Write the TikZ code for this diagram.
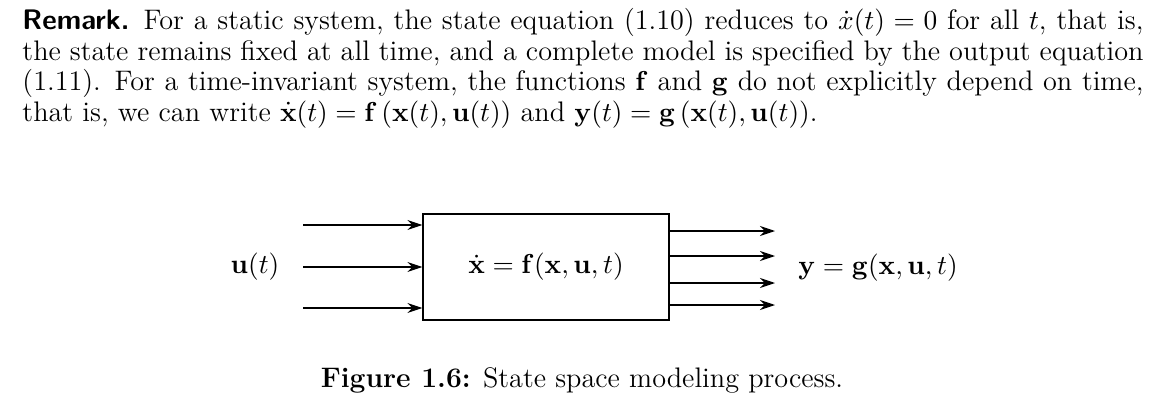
\documentclass[tikz,border=0pt]{standalone}
\usepackage{amsmath}
\usetikzlibrary{arrows.meta}
\begin{document}
\begin{tikzpicture}[x=0.4pt,y=-0.4pt,
  arr/.style={-{Stealth[length=6pt,width=4pt]},line width=0.5pt},
  blk/.style={draw,line width=0.5pt,minimum width=98.4pt,minimum height=42.4pt,inner sep=0pt}]
\useasboundingbox (0,0) rectangle (1167,413);
\node[anchor=north west,inner sep=0pt,text width=448.4pt,align=justify,font=\fontsize{11.3}{12.2}\selectfont] (para) at (22,8)
{\textsf{\textbf{Remark.}} For a static system, the state equation (1.10) reduces to $\dot x(t)=0$ for all $t$, that is,\linebreak
the state remains fixed at all time, and a complete model is specified by the output equation\linebreak
(1.11). For a time-invariant system, the functions $\mathbf f$ and $\mathbf g$ do not explicitly depend on time,\linebreak
that is, we can write $\dot{\mathbf x}(t)=\mathbf f\left(\mathbf x(t),\mathbf u(t)\right)$ and $\mathbf y(t)=\mathbf g\left(\mathbf x(t),\mathbf u(t)\right)$.};
\node[blk] (box) at (546,267) {\fontsize{11.3}{12}\selectfont$\dot{\mathbf x}=\mathbf f(\mathbf x,\mathbf u,t)$};
\node (u) at (255,267) {\fontsize{11.3}{12}\selectfont$\mathbf u(t)$};
\node (y) at (878,268) {\fontsize{11.3}{12}\selectfont$\mathbf y=\mathbf g(\mathbf x,\mathbf u,t)$};
\coordinate (i1) at (303,225); \coordinate (i2) at (303,267); \coordinate (i3) at (303,308);
\draw[arr] (i1) -- (i1 -| box.west);
\draw[arr] (i2) -- (i2 -| box.west);
\draw[arr] (i3) -- (i3 -| box.west);
\foreach \yy [count=\k] in {231,256,283,305}{
  \coordinate (o\k) at (775,\yy);
  \draw[arr] (o\k -| box.east) -- (o\k);}
\node (cap) at (582,380) {\fontsize{11.3}{12}\selectfont\textbf{Figure 1.6:} State space modeling process.};
\end{tikzpicture}
\end{document}
